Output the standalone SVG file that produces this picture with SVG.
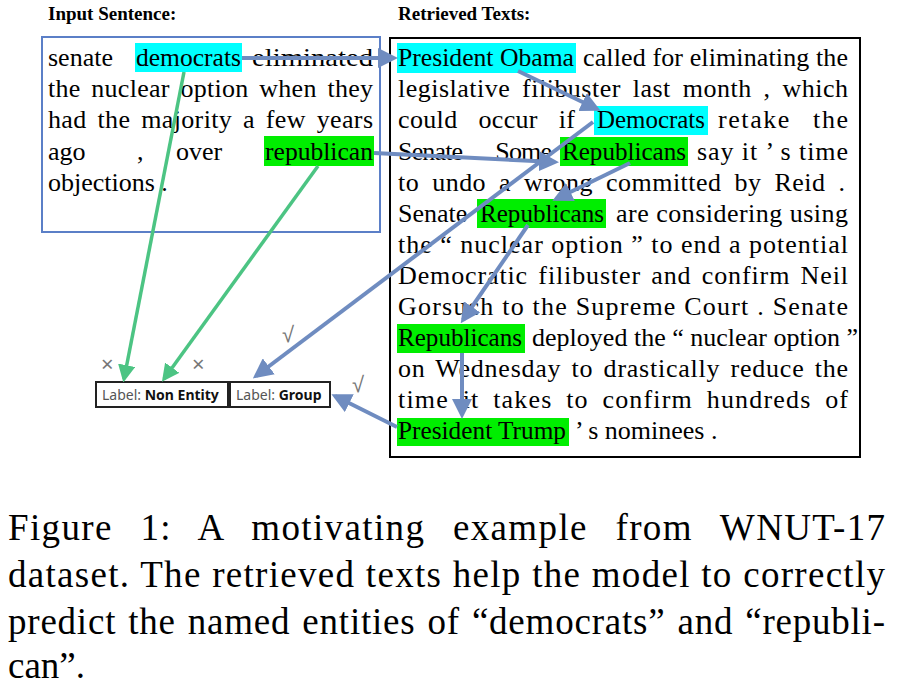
<svg xmlns="http://www.w3.org/2000/svg" width="921" height="697" viewBox="0 0 921 697">
<style>
.t{font-family:"Liberation Serif","Times New Roman",serif;font-size:26px;fill:#000}
.h{font-family:"Liberation Serif",serif;font-size:19px;font-weight:bold}
.c{font-family:"Liberation Serif","Times New Roman",serif;font-size:37px}
.l{font-family:"Noto Sans","DejaVu Sans",sans-serif;font-size:14px;fill:#555}
.l tspan{font-weight:bold;fill:#111}
.cy{fill:#00ffff}.gr{fill:#00ee00}
.b{stroke:#6f8cc0;stroke-width:4;fill:none;marker-end:url(#ab)}
.g{stroke:#4cc483;stroke-width:3.5;fill:none;marker-end:url(#ag)}
.m{font-family:"Noto Sans",sans-serif;font-size:22px;fill:#777}
</style>
<defs>
<marker id="ab" markerWidth="5" markerHeight="5" refX="4" refY="2.5" orient="auto"><path d="M0,0L5,2.5L0,5z" fill="#6f8cc0"/></marker>
<marker id="ag" markerWidth="5" markerHeight="5" refX="4" refY="2.5" orient="auto"><path d="M0,0L5,2.5L0,5z" fill="#4cc483"/></marker>
</defs>
<rect width="921" height="697" fill="#fff"/>
<text class="h" x="48" y="20">Input Sentence:</text>
<text class="h" x="398" y="20">Retrieved Texts:</text>
<g id="input">
<rect x="42" y="37" width="338" height="195" fill="none" stroke="#5b7fc7" stroke-width="2"/>
<rect class="cy" x="135" y="43" width="107" height="29"/>
<rect class="gr" x="264" y="136" width="110" height="30"/>
<text class="t" x="48" y="66">senate</text><text class="t" x="136" y="66" textLength="105" lengthAdjust="spacingAndGlyphs">democrats</text><text class="t" x="252" y="66" textLength="121" lengthAdjust="spacingAndGlyphs">eliminated</text>
<text class="t" x="48" y="97" textLength="325" lengthAdjust="spacing" word-spacing="4">the nuclear option when they</text>
<text class="t" x="48" y="128" textLength="325" lengthAdjust="spacing" word-spacing="4">had the majority a few years</text>
<text class="t" x="48" y="160">ago</text><text class="t" x="137" y="160">,</text><text class="t" x="176" y="160">over</text><text class="t" x="265" y="160" textLength="108" lengthAdjust="spacingAndGlyphs">republican</text>
<text class="t" x="48" y="191">objections .</text>
</g>
<g id="retrieved">
<rect x="390" y="38" width="470" height="419" fill="none" stroke="#000" stroke-width="2"/>
<rect class="cy" x="397" y="43" width="179" height="30"/>
<rect class="cy" x="594" y="106" width="114" height="29"/>
<rect class="gr" x="560" y="137" width="128" height="29"/>
<rect class="gr" x="477" y="199" width="129" height="29"/>
<rect class="gr" x="397" y="324" width="128" height="29"/>
<rect class="gr" x="397" y="418" width="172" height="28"/>
<text class="t" x="398" y="66" textLength="176" lengthAdjust="spacingAndGlyphs">President Obama</text><text class="t" x="583" y="66" textLength="265" lengthAdjust="spacing">called for eliminating the</text>
<text class="t" x="398" y="97" textLength="450" lengthAdjust="spacing" word-spacing="5">legislative filibuster last month , which</text>
<text class="t" x="398" y="128" textLength="177" lengthAdjust="spacing" word-spacing="14">could occur if</text><text class="t" x="597" y="128" textLength="108" lengthAdjust="spacingAndGlyphs">Democrats</text><text class="t" x="718" y="128" textLength="130" lengthAdjust="spacing" word-spacing="14">retake the</text>
<text class="t" x="398" y="160" textLength="154" lengthAdjust="spacing" word-spacing="8">Senate . Some</text><text class="t" x="562" y="160" textLength="124" lengthAdjust="spacingAndGlyphs">Republicans</text><text class="t" x="697" y="160" textLength="151" lengthAdjust="spacing">say it ’ s time</text>
<text class="t" x="398" y="191" textLength="447" lengthAdjust="spacing" word-spacing="6">to undo a wrong committed by Reid .</text>
<text class="t" x="398" y="222">Senate</text><text class="t" x="480" y="222" textLength="124" lengthAdjust="spacingAndGlyphs">Republicans</text><text class="t" x="616" y="222" textLength="232" lengthAdjust="spacing">are considering using</text>
<text class="t" x="398" y="253" textLength="450" lengthAdjust="spacing">the “ nuclear option ” to end a potential</text>
<text class="t" x="398" y="284" textLength="450" lengthAdjust="spacing" word-spacing="3">Democratic filibuster and confirm Neil</text>
<text class="t" x="398" y="315" textLength="450" lengthAdjust="spacing">Gorsuch to the Supreme Court . Senate</text>
<text class="t" x="398" y="346" textLength="124" lengthAdjust="spacingAndGlyphs">Republicans</text><text class="t" x="532" y="346" textLength="326" lengthAdjust="spacing">deployed the “ nuclear option ”</text>
<text class="t" x="398" y="377" textLength="450" lengthAdjust="spacing" word-spacing="3">on Wednesday to drastically reduce the</text>
<text class="t" x="398" y="408" textLength="450" lengthAdjust="spacing" word-spacing="6">time it takes to confirm hundreds of</text>
<text class="t" x="398" y="439" textLength="168" lengthAdjust="spacingAndGlyphs">President Trump</text><text class="t" x="575" y="439">’ s nominees .</text>
</g>
<g id="label-nonentity"><rect x="96" y="382" width="132" height="25" fill="#fff" stroke="#222" stroke-width="2"/><text class="l" x="102" y="400">Label: <tspan>Non Entity</tspan></text></g>
<g id="label-group"><rect x="230" y="382" width="100" height="25" fill="#fff" stroke="#222" stroke-width="2"/><text class="l" x="236" y="400">Label: <tspan>Group</tspan></text></g>
<g id="marks"><text class="m" x="101" y="372">×</text><text class="m" x="192" y="372">×</text><text class="m" x="282" y="342">√</text><text class="m" x="352" y="392">√</text></g>
<g id="connectors">
<line class="b" x1="242" y1="58" x2="394" y2="58"/>
<line class="b" x1="374" y1="153" x2="555" y2="162"/>
<line class="b" x1="518" y1="71" x2="597" y2="109"/>
<line class="b" x1="630" y1="163" x2="556" y2="199"/>
<line class="b" x1="593" y1="122" x2="256" y2="376"/>
<line class="b" x1="528" y1="225" x2="463" y2="320"/>
<line class="b" x1="462" y1="353" x2="462" y2="415"/>
<line class="b" x1="397" y1="427" x2="335" y2="396"/>
<line class="g" x1="184" y1="72" x2="124" y2="379"/>
<line class="g" x1="318" y1="166" x2="164" y2="379"/>
</g>
<g id="caption">
<text class="c" x="8" y="540" textLength="877" lengthAdjust="spacing" word-spacing="17">Figure 1:  A motivating example from WNUT-17</text>
<text class="c" x="8" y="587" textLength="877" lengthAdjust="spacing">dataset. The retrieved texts help the model to correctly</text>
<text class="c" x="8" y="634" textLength="877" lengthAdjust="spacing" word-spacing="2">predict the named entities of “democrats” and “republi-</text>
<text class="c" x="8" y="678">can”.</text>
</g>
</svg>
